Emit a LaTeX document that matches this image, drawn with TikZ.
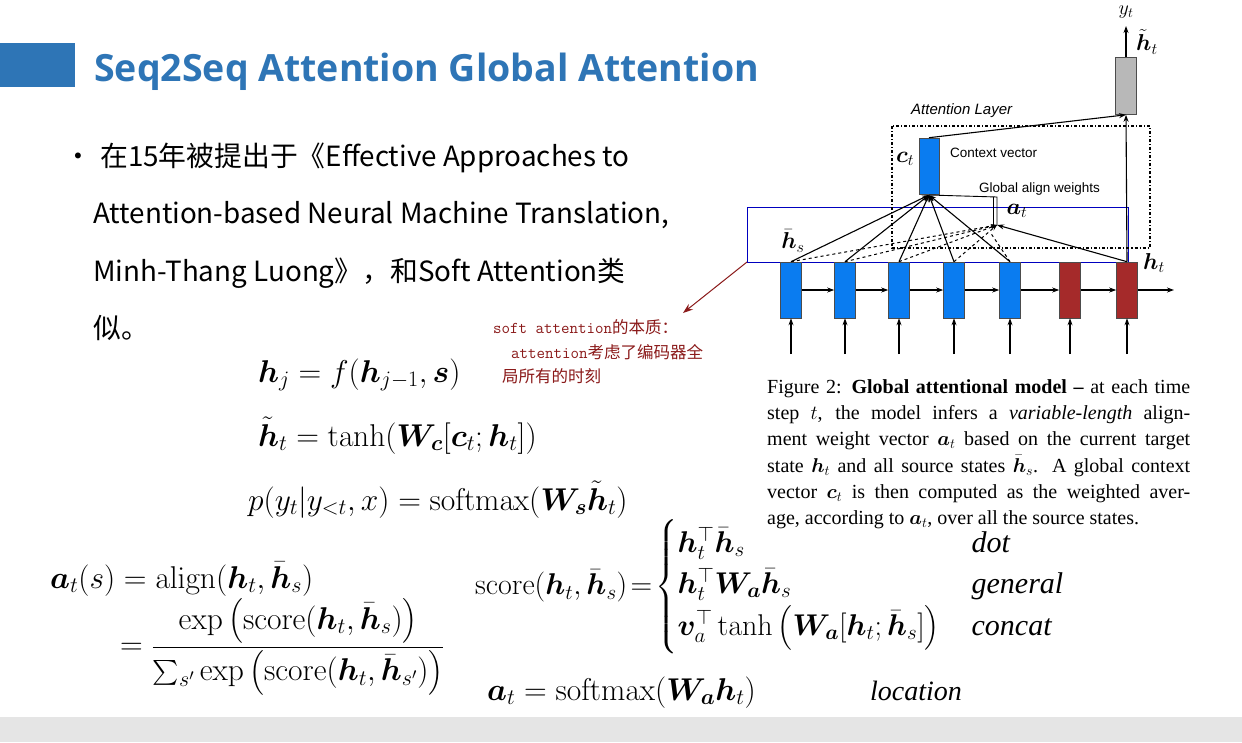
\RequirePackage{fix-cm}
\documentclass[tikz,border=0pt]{standalone}
\usepackage{amsmath,bm}
\usepackage[no-math]{fontspec}
\setmainfont{Liberation Serif}
\newfontfamily\cjk{Noto Sans CJK SC}
\newfontfamily\titlefont{Open Sans}
\newfontfamily\helv{Liberation Sans}
\usetikzlibrary{arrows.meta}
\definecolor{ttl}{HTML}{2E75B6}
\definecolor{cellblue}{HTML}{0A7CF0}
\definecolor{cellred}{HTML}{A52A2A}
\definecolor{anno}{HTML}{8B1A1A}
\begin{document}
\begin{tikzpicture}[x=1pt,y=-1pt,
  cell/.style={draw=black!70,line width=0.6pt,minimum width=21pt,minimum height=56pt,inner sep=0pt},
  arr/.style={-{Stealth[length=7pt,width=5pt]},line width=1.1pt},
  txt/.style={inner sep=0pt,anchor=base west},
  bt/.style={txt,font=\cjk\fontsize{27.8}{30}\selectfont},
  mth/.style={inner sep=0pt,anchor=base west,font=\fontsize{31.5}{36}\selectfont},
  lab/.style={font=\fontsize{23}{26}\selectfont,inner sep=1pt}]
\useasboundingbox (0,0) rectangle (1242,742);
\fill[white] (0,0) rectangle (1242,742);
\fill[black!10] (0,717) rectangle (1242,742);
% title
\fill[ttl] (0,43) rectangle (75,87);
\node[txt,text=ttl,font=\titlefont\bfseries\fontsize{37.5}{42}\selectfont] (title) at (94,81) {Seq2Seq Attention Global Attention};
% bullet text
\node[bt] (bul) at (64,166) {•};
\node[bt] (l1) at (100,166) {在15年被提出于《Effective Approaches to};
\node[bt] (l2) at (93,223) {Attention-based Neural Machine Translation,};
\node[bt] (l3) at (93,281) {Minh-Thang Luong》，和Soft Attention类};
\node[bt] (l4) at (93,338) {似。};
% annotation
\node[txt,text=anno,font=\fontsize{16.5}{18}\selectfont] (a1) at (493,333) {\ttfamily soft attention\cjk 的本质：};
\node[txt,text=anno,font=\fontsize{16.5}{18}\selectfont] (a2) at (511,358) {\ttfamily attention\cjk 考虑了编码器全};
\node[txt,text=anno,font=\fontsize{16.5}{18}\selectfont] (a3) at (502,382) {\cjk 局所有的时刻};
% overlay rectangle and arrow
\draw[blue!75!black,line width=0.8pt] (747,207) rectangle (1128,262);
\coordinate (ovc) at (747,262);
\coordinate (anc) at (683,313);
\draw[anno,line width=1pt,-{Stealth[length=10pt,width=7pt]}] (ovc) -- (anc);
% cells
\foreach \i/\x/\c in {1/791/cellblue,2/845/cellblue,3/899/cellblue,4/954/cellblue,5/1010/cellblue,6/1070/cellred,7/1127/cellred}{
  \node[cell,fill=\c] (c\i) at (\x,290) {};
  \coordinate (in\i) at (\x,354);
  \draw[arr] (in\i) -- (c\i.south);
}
\foreach \i/\j in {1/2,2/3,3/4,4/5,5/6,6/7}{\draw[arr] (c\i.east) -- (c\j.west);}
\coordinate (endh) at (1174,290);
\draw[arr] (c7.east) -- (endh);
% attention layer box
\draw[line width=1.1pt,dash dot] (892,126) rectangle (1150,248);
\node[txt,font=\helv\itshape\fontsize{15}{16}\selectfont] (attl) at (911,114) {Attention Layer};
\node[cell,fill=cellblue,minimum width=20pt] (ct) at (929,166) {};
\node[cell,fill=black!28,minimum height=57pt] (gy) at (1126,86) {};
\coordinate (ctb) at (929,195);
\coordinate (at) at (997,225);
\coordinate (atu) at (997,197);
\foreach \i in {1,2,3,4,5}{\draw[arr] (c\i.north) -- (ctb);}
\draw[arr] (c7.north) -- (at);
\foreach \i in {1,2,3,4}{\draw[dashed,line width=1pt,-{Stealth[length=6pt,width=4pt]}] (c\i.north) -- (at);}
\draw[dashed,line width=1pt] (c5.north) -- (990,232);
\draw[line width=0.9pt] (ctb) -- (atu) -- (at);
\draw[line width=0.9pt] (993,197) -- (993,225);
\draw[arr] (ct.north) -- (gy.south);
\draw[arr] (c7.north) -- (gy.south);
\coordinate (yt) at (1126,26);
\draw[arr] (gy.north) -- (yt);
\node[lab,font=\fontsize{20}{20}\selectfont] (ytl) at (1126,12) {$y_t$};
\node[lab] (htt) at (1147,42) {$\tilde{\bm h}_t$};
\node[lab] (ctl) at (905,159) {$\bm c_t$};
\node[txt,font=\helv\fontsize{13.5}{14}\selectfont] (cvl) at (950,157) {Context vector};
\node[txt,font=\helv\fontsize{13.5}{14}\selectfont] (gal) at (979,192) {Global align weights};
\node[lab] (atl) at (1017,211) {$\bm a_t$};
\node[lab] (hsl) at (793,241) {$\bar{\bm h}_s$};
\node[lab] (htl) at (1154,263) {$\bm h_t$};
% caption
\begin{scope}[every node/.style={txt,font=\fontsize{20}{23}\selectfont}]
\node (f1) at (767,393) {\makebox[423pt][s]{Figure 2: \textbf{Global attentional model --} at each time}};
\node (f2) at (767,419) {\makebox[423pt][s]{step $t$, the model infers a \textit{variable-length} align-}};
\node (f3) at (767,445) {\makebox[423pt][s]{ment weight vector $\bm a_t$ based on the current target}};
\node (f4) at (767,472) {\makebox[423pt][s]{state $\bm h_t$ and all source states $\bar{\bm h}_s$. A global context}};
\node (f5) at (767,498) {\makebox[423pt][s]{vector $\bm c_t$ is then computed as the weighted aver-}};
\node (f6) at (767,524) {age, according to $\bm a_t$, over all the source states.};
\end{scope}
% formulas
\node[mth] (e1) at (258,382) {$\bm h_j = f(\bm h_{j-1},\bm s)$};
\node[mth] (e2) at (258,446) {$\tilde{\bm h}_t = \tanh(\bm W_{\bm c}[\bm c_t;\bm h_t])$};
\node[mth] (e3) at (248,510) {$p(y_t|y_{<t},x) = \mathrm{softmax}(\bm W_{\bm s}\tilde{\bm h}_t)$};
\node[mth] (e4) at (50,588) {$\bm a_t(s) = \mathrm{align}(\bm h_t,\bar{\bm h}_s)$};
\node[mth,anchor=west] (e5) at (120,647) {$=\dfrac{\exp\left(\mathrm{score}(\bm h_t,\bar{\bm h}_s)\right)}{\sum_{s'}\exp\left(\mathrm{score}(\bm h_t,\bar{\bm h}_{s'})\right)}$};
\node[mth,anchor=west,font=\fontsize{30}{34}\selectfont] (e6) at (475,587) {$\mathrm{score}(\bm h_t,\bar{\bm h}_s)\!=\!\begin{cases}\bm h_t^\top\bar{\bm h}_s & \hspace{2pt}\textit{dot}\\[0pt] \bm h_t^\top\bm W_{\bm a}\bar{\bm h}_s & \hspace{2pt}\textit{general}\\[0pt] \bm v_a^\top\tanh\left(\bm W_{\bm a}[\bm h_t;\bar{\bm h}_s]\right) & \hspace{2pt}\textit{concat}\end{cases}$};
\node[mth] (e7) at (487,700) {$\bm a_t = \mathrm{softmax}(\bm W_{\bm a}\bm h_t)$};
\node[mth,font=\fontsize{28}{30}\selectfont] (e8) at (870,700) {\textit{location}};
\end{tikzpicture}
\end{document}
